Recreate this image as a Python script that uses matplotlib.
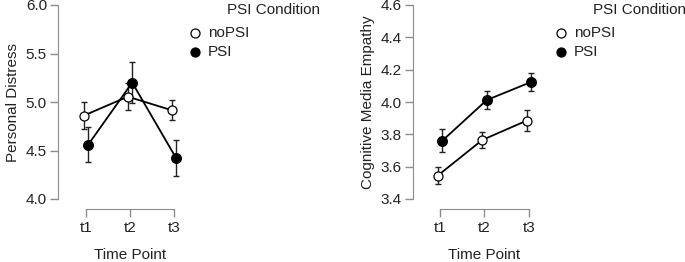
import numpy as np
import matplotlib
matplotlib.use('Agg')
import matplotlib.pyplot as plt

plt.rcParams['font.family'] = ['Liberation Sans', 'DejaVu Sans']

time_points = ['t1', 't2', 't3']
groups = ['noPSI', 'PSI']

# personal distress (means, error half widths)
pd_mean = {'noPSI': [4.86, 5.055, 4.915], 'PSI': [4.56, 5.20, 4.42]}
pd_err = {'noPSI': [0.14, 0.14, 0.105], 'PSI': [0.18, 0.21, 0.185]}

# cognitive media empathy
cme_mean = {'noPSI': [3.545, 3.765, 3.885], 'PSI': [3.76, 4.012, 4.124]}
cme_err = {'noPSI': [0.055, 0.052, 0.067], 'PSI': [0.072, 0.058, 0.055]}

W, H = 685, 262
fig = plt.figure(figsize=(W / 100, H / 100), dpi=100)


def panel(left_px, x0_px, unit_px, ylim, yticks, means, errs, ylabel, leg_x):
    xlo = -(x0_px - left_px) / unit_px
    xhi = 2 - xlo
    ax = fig.add_axes([left_px / W, 1 - 199 / H, (xhi - xlo) * unit_px / W, 194 / H])
    x = np.arange(3)
    dodge = {'noPSI': -0.05, 'PSI': 0.05}
    for g in groups:
        xs = x + dodge[g]
        face = 'white' if g == 'noPSI' else 'black'
        ax.errorbar(xs, means[g], yerr=errs[g], color='#222222', lw=1.0,
                    capsize=2.2, capthick=1.0, fmt='none', zorder=2)
        ax.plot(xs, means[g], color='black', lw=1.3, marker='o',
                markersize=7 if g == 'PSI' else 6.5, markerfacecolor=face,
                markeredgecolor='black', markeredgewidth=0.9, zorder=3)
    ax.set_xlim(xlo, xhi)
    ax.set_ylim(*ylim)
    ax.set_yticks(yticks)
    ax.set_yticklabels([f'{v:.1f}' for v in yticks])
    ax.set_xticks(x)
    ax.set_xticklabels(time_points)
    for s in ['top', 'right']:
        ax.spines[s].set_visible(False)
    ax.spines['left'].set_color('#8c8c8c')
    ax.spines['bottom'].set_color('#8c8c8c')
    ax.spines['left'].set_bounds(ylim[0], ylim[1])
    ax.spines['bottom'].set_bounds(0, 2)
    ax.spines['bottom'].set_position(('outward', 7.2))
    ax.tick_params(axis='both', colors='#8c8c8c', labelcolor='#222222',
                   labelsize=11, length=6, width=1)
    ax.tick_params(axis='y', pad=2)
    ax.tick_params(axis='x', pad=3)
    ax.set_xlabel('Time Point', fontsize=11, color='#222222', labelpad=9)
    ax.set_ylabel(ylabel, fontsize=11, color='#222222', labelpad=4)
    ax.patch.set_alpha(0)

    # legend
    fig.text((leg_x + 32) / W, 1 - 10 / H, 'PSI Condition', fontsize=11,
             color='#222222', va='center', ha='left')
    for i, g in enumerate(groups):
        yy = 1 - (33 + 19 * i) / H
        face = 'white' if g == 'noPSI' else 'black'
        fig.add_artist(plt.Line2D([leg_x / W], [yy], transform=fig.transFigure,
                                  marker='o', markersize=6.5, markerfacecolor=face,
                                  markeredgecolor='black', markeredgewidth=0.9,
                                  linestyle='none'))
        fig.text((leg_x + 13) / W, yy, g, fontsize=11, color='#222222',
                 va='center', ha='left')
    return ax


panel(58, 86, 44, (4.0, 6.0), [4.0, 4.5, 5.0, 5.5, 6.0], pd_mean, pd_err,
      'Personal Distress', 195)
panel(412.7, 440, 44.5, (3.4, 4.6), [3.4, 3.6, 3.8, 4.0, 4.2, 4.4, 4.6],
      cme_mean, cme_err, 'Cognitive Media Empathy', 560.7)

fig.savefig('out.png', dpi=100)
